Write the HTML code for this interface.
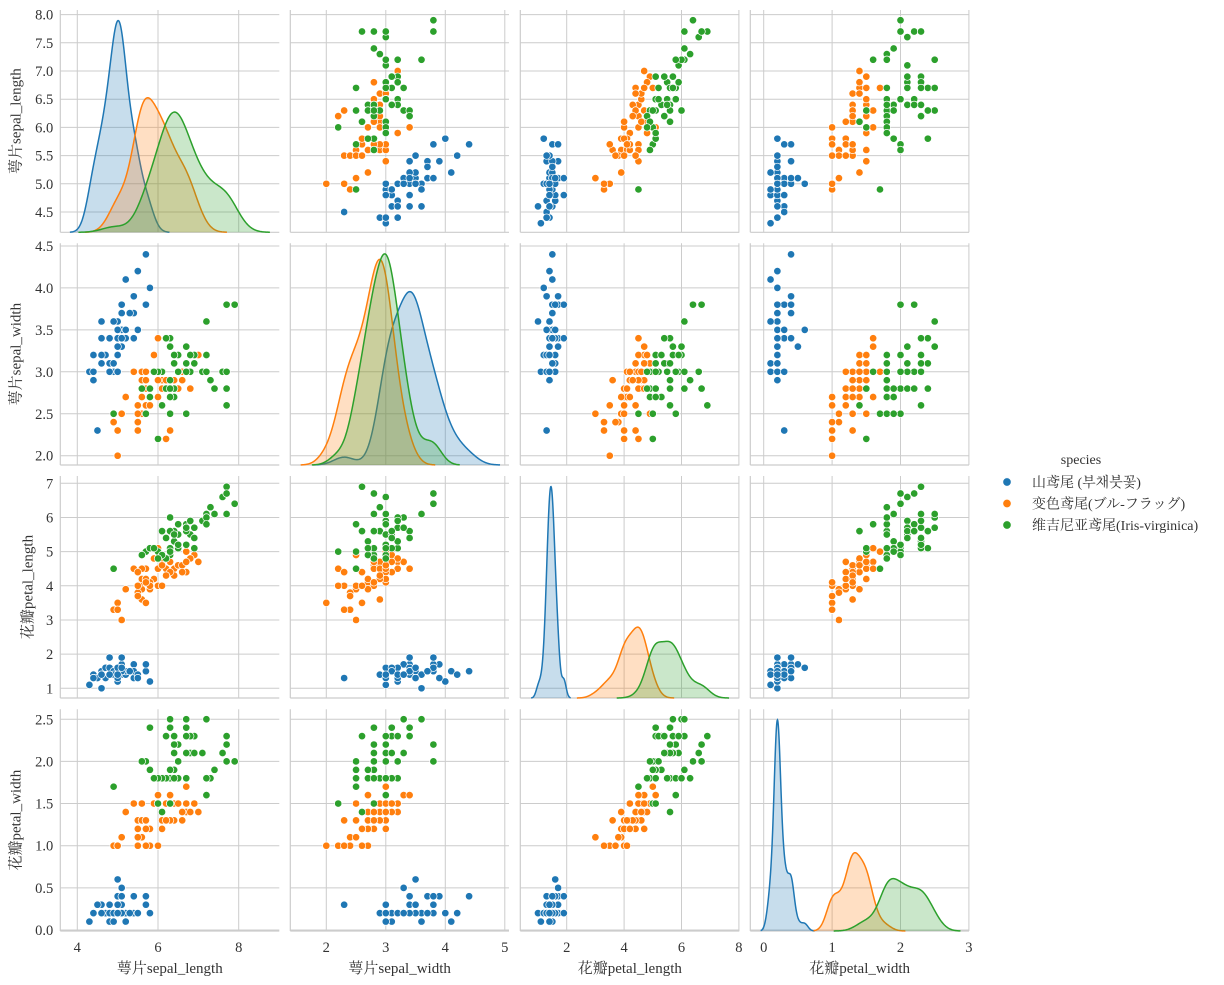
<!DOCTYPE html>
<html><head><meta charset="utf-8"><style>
html,body{margin:0;padding:0;background:#fff;}
svg{display:block;font-family:"Liberation Serif","Noto Serif CJK SC",serif;}
</style></head><body>
<svg id="chart" width="1224" height="985" viewBox="0 0 1224 985" xmlns="http://www.w3.org/2000/svg"></svg>
<script>
const speciesNames = ["山鸢尾 (부채붓꽃)", "变色鸢尾(ブル-フラッグ)", "维吉尼亚鸢尾(Iris-virginica)"];
const varLabels = ["萼片sepal_length", "萼片sepal_width", "花瓣petal_length", "花瓣petal_width"];
const tickVals = [[4.5,5.0,5.5,6.0,6.5,7.0,7.5,8.0],[2.0,2.5,3.0,3.5,4.0,4.5],[1,2,3,4,5,6,7],[0.0,0.5,1.0,1.5,2.0,2.5]];
const xTickVals = [[4,6,8],[2,3,4,5],[2,4,6,8],[0,1,2,3]];
const setosa = [
[5.1,3.5,1.4,0.2],[4.9,3.0,1.4,0.2],[4.7,3.2,1.3,0.2],[4.6,3.1,1.5,0.2],[5.0,3.6,1.4,0.2],[5.4,3.9,1.7,0.4],[4.6,3.4,1.4,0.3],[5.0,3.4,1.5,0.2],[4.4,2.9,1.4,0.2],[4.9,3.1,1.5,0.1],
[5.4,3.7,1.5,0.2],[4.8,3.4,1.6,0.2],[4.8,3.0,1.4,0.1],[4.3,3.0,1.1,0.1],[5.8,4.0,1.2,0.2],[5.7,4.4,1.5,0.4],[5.4,3.9,1.3,0.4],[5.1,3.5,1.4,0.3],[5.7,3.8,1.7,0.3],[5.1,3.8,1.5,0.3],
[5.4,3.4,1.7,0.2],[5.1,3.7,1.5,0.4],[4.6,3.6,1.0,0.2],[5.1,3.3,1.7,0.5],[4.8,3.4,1.9,0.2],[5.0,3.0,1.6,0.2],[5.0,3.4,1.6,0.4],[5.2,3.5,1.5,0.2],[5.2,3.4,1.4,0.2],[4.7,3.2,1.6,0.2],
[4.8,3.1,1.6,0.2],[5.4,3.4,1.5,0.4],[5.2,4.1,1.5,0.1],[5.5,4.2,1.4,0.2],[4.9,3.1,1.5,0.2],[5.0,3.2,1.2,0.2],[5.5,3.5,1.3,0.2],[4.9,3.6,1.4,0.1],[4.4,3.0,1.3,0.2],[5.1,3.4,1.5,0.2],
[5.0,3.5,1.3,0.3],[4.5,2.3,1.3,0.3],[4.4,3.2,1.3,0.2],[5.0,3.5,1.6,0.6],[5.1,3.8,1.9,0.4],[4.8,3.0,1.4,0.3],[5.1,3.8,1.6,0.2],[4.6,3.2,1.4,0.2],[5.3,3.7,1.5,0.2],[5.0,3.3,1.4,0.2]];
const versicolor = [
[7.0,3.2,4.7,1.4],[6.4,3.2,4.5,1.5],[6.9,3.1,4.9,1.5],[5.5,2.3,4.0,1.3],[6.5,2.8,4.6,1.5],[5.7,2.8,4.5,1.3],[6.3,3.3,4.7,1.6],[4.9,2.4,3.3,1.0],[6.6,2.9,4.6,1.3],[5.2,2.7,3.9,1.4],
[5.0,2.0,3.5,1.0],[5.9,3.0,4.2,1.5],[6.0,2.2,4.0,1.0],[6.1,2.9,4.7,1.4],[5.6,2.9,3.6,1.3],[6.7,3.1,4.4,1.4],[5.6,3.0,4.5,1.5],[5.8,2.7,4.1,1.0],[6.2,2.2,4.5,1.5],[5.6,2.5,3.9,1.1],
[5.9,3.2,4.8,1.8],[6.1,2.8,4.0,1.3],[6.3,2.5,4.9,1.5],[6.1,2.8,4.7,1.2],[6.4,2.9,4.3,1.3],[6.6,3.0,4.4,1.4],[6.8,2.8,4.8,1.4],[6.7,3.0,5.0,1.7],[6.0,2.9,4.5,1.5],[5.7,2.6,3.5,1.0],
[5.5,2.4,3.8,1.1],[5.5,2.4,3.7,1.0],[5.8,2.7,3.9,1.2],[6.0,2.7,5.1,1.6],[5.4,3.0,4.5,1.5],[6.0,3.4,4.5,1.6],[6.7,3.1,4.7,1.5],[6.3,2.3,4.4,1.3],[5.6,3.0,4.1,1.3],[5.5,2.5,4.0,1.3],
[5.5,2.6,4.4,1.2],[6.1,3.0,4.6,1.4],[5.8,2.6,4.0,1.2],[5.0,2.3,3.3,1.0],[5.6,2.7,4.2,1.3],[5.7,3.0,4.2,1.2],[5.7,2.9,4.2,1.3],[6.2,2.9,4.3,1.3],[5.1,2.5,3.0,1.1],[5.7,2.8,4.1,1.3]];
const virginica = [
[6.3,3.3,6.0,2.5],[5.8,2.7,5.1,1.9],[7.1,3.0,5.9,2.1],[6.3,2.9,5.6,1.8],[6.5,3.0,5.8,2.2],[7.6,3.0,6.6,2.1],[4.9,2.5,4.5,1.7],[7.3,2.9,6.3,1.8],[6.7,2.5,5.8,1.8],[7.2,3.6,6.1,2.5],
[6.5,3.2,5.1,2.0],[6.4,2.7,5.3,1.9],[6.8,3.0,5.5,2.1],[5.7,2.5,5.0,2.0],[5.8,2.8,5.1,2.4],[6.4,3.2,5.3,2.3],[6.5,3.0,5.5,1.8],[7.7,3.8,6.7,2.2],[7.7,2.6,6.9,2.3],[6.0,2.2,5.0,1.5],
[6.9,3.2,5.7,2.3],[5.6,2.8,4.9,2.0],[7.7,2.8,6.7,2.0],[6.3,2.7,4.9,1.8],[6.7,3.3,5.7,2.1],[7.2,3.2,6.0,1.8],[6.2,2.8,4.8,1.8],[6.1,3.0,4.9,1.8],[6.4,2.8,5.6,2.1],[7.2,3.0,5.8,1.6],
[7.4,2.8,6.1,1.9],[7.9,3.8,6.4,2.0],[6.4,2.8,5.6,2.2],[6.3,2.8,5.1,1.5],[6.1,2.6,5.6,1.4],[7.7,3.0,6.1,2.3],[6.3,3.4,5.6,2.4],[6.4,3.1,5.5,1.8],[6.0,3.0,4.8,1.8],[6.9,3.1,5.4,2.1],
[6.7,3.1,5.6,2.4],[6.9,3.1,5.1,2.3],[5.8,2.7,5.1,1.9],[6.8,3.2,5.9,2.3],[6.7,3.3,5.7,2.5],[6.7,3.0,5.2,2.3],[6.3,2.5,5.0,1.9],[6.5,3.0,5.2,2.0],[6.2,3.4,5.4,2.3],[5.9,3.0,5.1,1.8]];

const groups = [setosa, versicolor, virginica];
const colors = ["#1f77b4","#ff7f0e","#2ca02c"];
const NS = "http://www.w3.org/2000/svg";
const svg = document.getElementById("chart");
// layout
const colBox = [[60.3,279.3],[290.3,509],[520.3,739.3],[750.3,969]];
const rowBox = [[10,232.3],[243.3,465],[476,698],[709.3,931]];
const xRef = [[4,77.3,40.35],[2,326.3,59.5],[2,566.7,28.7],[0,763.7,68.4]];
const yRef = [[4.5,212,56.4],[2.0,455.7,83.9],[1,688.3,34.17],[0,930,84.3]];
function xs(c,v){return xRef[c][1]+(v-xRef[c][0])*xRef[c][2];}
function ys(r,v){return yRef[r][1]-(v-yRef[r][0])*yRef[r][2];}
function mk(tag,attrs,parent){const e=document.createElementNS(NS,tag);for(const k in attrs)e.setAttribute(k,attrs[k]);(parent||svg).appendChild(e);return e;}
function fmt(r,v){return (r===2)?String(v):v.toFixed(1);}

function kde(vals,x){
  const n=vals.length;const m=vals.reduce((a,b)=>a+b,0)/n;
  const sd=Math.sqrt(vals.reduce((a,b)=>a+(b-m)*(b-m),0)/(n-1));
  const bw=sd*Math.pow(n,-0.2);
  let s=0;for(const v of vals){const z=(x-v)/bw;s+=Math.exp(-0.5*z*z);}
  return {d:s/(n*bw*Math.sqrt(2*Math.PI)),bw:bw};
}
function bwOf(vals){const n=vals.length;const m=vals.reduce((a,b)=>a+b,0)/n;
  return Math.sqrt(vals.reduce((a,b)=>a+(b-m)*(b-m),0)/(n-1))*Math.pow(n,-0.2);}

for(let r=0;r<4;r++){
  for(let c=0;c<4;c++){
    const g=mk("g",{});
    
    
    const [x0,x1]=colBox[c],[y0,y1]=rowBox[r];
    for(const t of tickVals[r]){const y=ys(r,t);mk("line",{x1:x0,x2:x1,y1:y,y2:y,stroke:"#cccccc","stroke-width":1},g);}
    for(const t of xTickVals[c]){const x=xs(c,t);mk("line",{x1:x,x2:x,y1:y0,y2:y1,stroke:"#cccccc","stroke-width":1},g);}
    mk("line",{x1:x0,x2:x0,y1:y0,y2:y1,stroke:"#cccccc","stroke-width":1.2},g);
    mk("line",{x1:x0,x2:x1,y1:y1,y2:y1,stroke:"#cccccc","stroke-width":1.2},g);
    if(r===c){
      const curves=[];let mx=0;
      groups.forEach((grp,k)=>{
        const vals=grp.map(d=>d[c]);const bw=bwOf(vals);
        const lo=Math.min(...vals)-3*bw,hi=Math.max(...vals)+3*bw;const pts=[];
        for(let i=0;i<200;i++){const x=lo+(hi-lo)*i/199;const d=kde(vals,x).d/3;pts.push([x,d]);if(d>mx)mx=d;}
        curves.push(pts);
      });
      const ymax=mx*1.05;
      curves.forEach((pts,k)=>{
        const py=d=>y1-(d/ymax)*(y1-y0);
        let p=pts.map((q,i)=>(i?"L":"M")+xs(c,q[0]).toFixed(2)+","+py(q[1]).toFixed(2)).join("");
        const fill=mk("path",{d:p+"L"+xs(c,pts[pts.length-1][0]).toFixed(2)+","+y1+"L"+xs(c,pts[0][0]).toFixed(2)+","+y1+"Z",fill:colors[k],"fill-opacity":0.25,stroke:"none"},g);
        
        
        const line=mk("path",{d:p,fill:"none",stroke:colors[k],"stroke-width":1.5},g);
        
        
      });
    } else {
      groups.forEach((grp,k)=>{
        grp.forEach(d=>{
          const pt=mk("circle",{cx:xs(c,d[c]).toFixed(2),cy:ys(r,d[r]).toFixed(2),r:3.7,fill:colors[k],stroke:"#ffffff","stroke-width":0.7},g);
          
          
        });
      });
    }
    if(c===0){
      for(const t of tickVals[r]){const tx=mk("text",{x:x0-7,y:ys(r,t)+5,"text-anchor":"end","font-size":14.5,fill:"#333"},g);tx.textContent=fmt(r,t);
        }
      const lx=[17,17,29,17][r];const cy=(y0+y1)/2;
      const yl=mk("text",{x:lx,y:cy,"text-anchor":"middle","font-size":15,fill:"#333",transform:"rotate(-90 "+lx+" "+cy+")","dominant-baseline":"middle"},g);
      yl.textContent=varLabels[r];
      
    }
    if(r===3){
      for(const t of xTickVals[c]){const tx=mk("text",{x:xs(c,t),y:952,"text-anchor":"middle","font-size":14.5,fill:"#333"},g);tx.textContent=String(t);
        }
      const xl=mk("text",{x:(x0+x1)/2,y:973,"text-anchor":"middle","font-size":15,fill:"#333"},g);
      xl.textContent=varLabels[c];
      
    }
  }
}
// legend
const lg=mk("g",{});


const lt=mk("text",{x:1081,y:464,"text-anchor":"middle","font-size":14,fill:"#333"},lg);
lt.textContent="species";

speciesNames.forEach((n,k)=>{
  const y=482+k*21.5;
  const e=mk("g",{},lg);
  
  
  mk("circle",{cx:1007,cy:y,r:4.2,fill:colors[k],stroke:"#fff","stroke-width":0.7},e);
  const t=mk("text",{x:1032,y:y+5,"font-size":14,fill:"#333"},e);
  t.textContent=n;
});
</script>
</body></html>
